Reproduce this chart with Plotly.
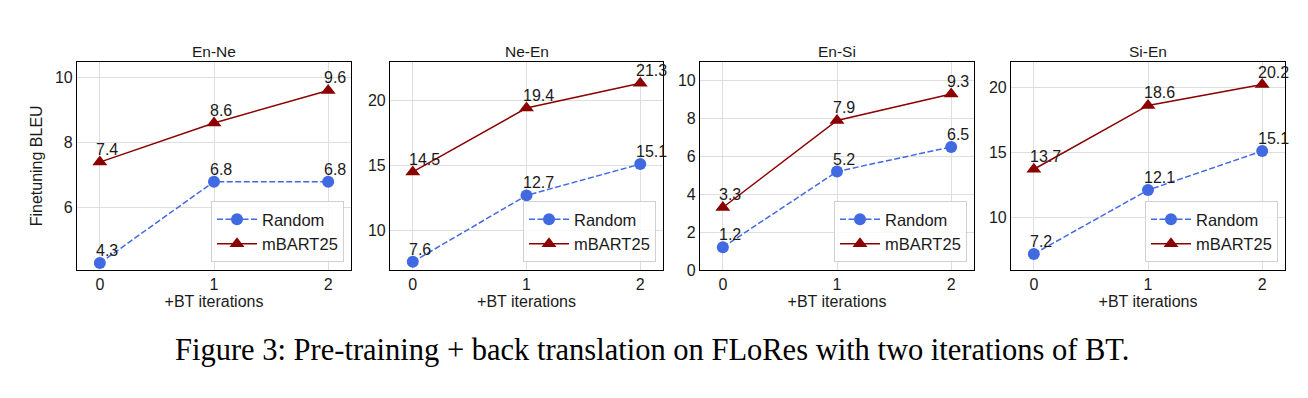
import plotly.graph_objects as go

# ---------------- data ----------------
iterations = [0, 1, 2]
panel_titles = ["En-Ne", "Ne-En", "En-Si", "Si-En"]

random_en_ne = [4.3, 6.8, 6.8]
mbart_en_ne = [7.4, 8.6, 9.6]
random_ne_en = [7.6, 12.7, 15.1]
mbart_ne_en = [14.5, 19.4, 21.3]
random_en_si = [1.2, 5.2, 6.5]
mbart_en_si = [3.3, 7.9, 9.3]
random_si_en = [7.2, 12.1, 15.1]
mbart_si_en = [13.7, 18.6, 20.2]

random_series = [random_en_ne, random_ne_en, random_en_si, random_si_en]
mbart_series = [mbart_en_ne, mbart_ne_en, mbart_en_si, mbart_si_en]

y_ranges = [[4.09, 10.48], [6.98, 22.95], [0, 11], [5.97, 21.95]]
y_ticks = [[6, 8, 10], [10, 15, 20], [0, 2, 4, 6, 8, 10], [10, 15, 20]]

caption = "Figure 3: Pre-training + back translation on FLoRes with two iterations of BT."

# ---------------- layout helpers ----------------
W, H = 1308, 398
panel_px = [(69, 343), (382, 655), (692, 966), (1003, 1277)]
top_px, bottom_px = 55, 268
ydom = [1 - bottom_px / H, 1 - top_px / H]

FONT = "Liberation Sans, Arial, sans-serif"
BLUE = "#4169E1"
RED = "#8B0000"
GRID = "#dedede"

fig = go.Figure()
layout = dict(
    width=W, height=H,
    margin=dict(l=0, r=0, t=0, b=0),
    paper_bgcolor="white", plot_bgcolor="white",
    font=dict(family=FONT, size=16, color="#1a1a1a"),
    annotations=[],
)

for i in range(4):
    n = "" if i == 0 else str(i + 1)
    xa, ya = "x" + n, "y" + n
    leg = "legend" + n
    x0, x1 = panel_px[i]
    fig.add_trace(go.Scatter(
        x=iterations, y=random_series[i], name="Random", mode="lines+markers",
        line=dict(color=BLUE, width=1.5, dash="6px,2.5px"),
        marker=dict(symbol="circle", size=12, color=BLUE),
        xaxis=xa, yaxis=ya, legend=leg, showlegend=True,
    ))
    fig.add_trace(go.Scatter(
        x=iterations, y=mbart_series[i], name="mBART25", mode="lines+markers",
        line=dict(color=RED, width=1.5),
        marker=dict(symbol="triangle-up", size=13, color=RED),
        xaxis=xa, yaxis=ya, legend=leg, showlegend=True,
    ))
    layout["xaxis" + n] = dict(
        domain=[x0 / W, x1 / W], anchor=ya, range=[-0.2, 2.2],
        tickvals=iterations, ticktext=[str(v) for v in iterations],
        showgrid=True, gridcolor=GRID, gridwidth=1, zeroline=False,
        showline=True, linecolor="black", linewidth=1.2, mirror=True,
        ticks="", tickfont=dict(size=16),
        title=dict(text="+BT iterations", font=dict(size=16), standoff=2),
    )
    layout["yaxis" + n] = dict(
        domain=ydom, anchor=xa, range=y_ranges[i], tickvals=y_ticks[i],
        showgrid=True, gridcolor=GRID, gridwidth=1, zeroline=False,
        showline=True, linecolor="black", linewidth=1.2, mirror=True,
        ticks="", tickfont=dict(size=16),
    )
    if i == 0:
        layout["yaxis"]["title"] = dict(text="Finetuning BLEU", font=dict(size=16), standoff=8)
    layout[leg] = dict(
        x=(x1 - 7) / W, y=1 - 260 / H, xanchor="right", yanchor="bottom",
        xref="paper", yref="paper",
        bgcolor="rgba(255,255,255,0.8)", bordercolor="#d0d0d0", borderwidth=1,
        font=dict(size=16.5, family=FONT), tracegroupgap=0, itemwidth=40,
    )
    layout["annotations"].append(dict(
        text=panel_titles[i], x=(x0 + x1) / 2 / W, y=1 - 45 / H,
        xref="paper", yref="paper", xanchor="center", yanchor="middle",
        showarrow=False, font=dict(size=15.5),
    ))
    for series in (random_series[i], mbart_series[i]):
        for xv, yv in zip(iterations, series):
            layout["annotations"].append(dict(
                text=f"{yv}", x=xv, y=yv, xref=xa, yref=ya,
                xanchor="left", yanchor="bottom", xshift=-6, yshift=2,
                showarrow=False, font=dict(size=16),
            ))

layout["annotations"].append(dict(
    text=caption, x=644 / W, y=1 - 350 / H, xref="paper", yref="paper",
    xanchor="center", yanchor="middle", showarrow=False,
    font=dict(family="Liberation Serif, Times New Roman, serif", size=30.5, color="black"),
))

fig.update_layout(**layout)
fig.write_html("out.html")
